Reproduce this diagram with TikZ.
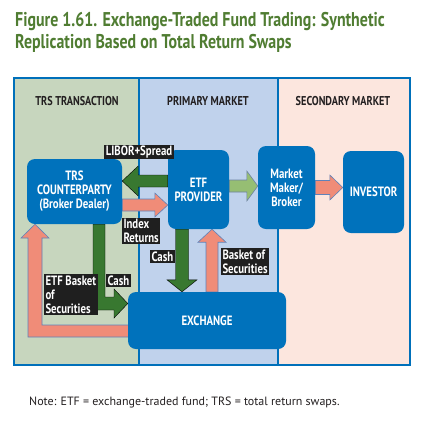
\documentclass[tikz,border=0pt]{standalone}
\usepackage{fontspec}
\setmainfont{PT Sans}
\newfontfamily\cond[FakeStretch=0.8]{PT Sans}
\usetikzlibrary{calc}
\definecolor{titlegreen}{RGB}{80,125,50}
\definecolor{frameblue}{RGB}{0,112,186}
\definecolor{nodeblue}{RGB}{0,114,188}
\definecolor{bgone}{RGB}{199,214,190}
\definecolor{bgtwo}{RGB}{192,210,236}
\definecolor{bgthree}{RGB}{252,230,222}
\definecolor{dkgreen}{RGB}{56,120,48}
\definecolor{salmon}{RGB}{240,140,120}
\definecolor{ltgreen}{RGB}{150,190,115}
\definecolor{edgeblue}{RGB}{95,130,185}
\definecolor{ink}{RGB}{35,31,32}
\pgfdeclarelayer{back}
\pgfdeclarelayer{arrows}
\pgfsetlayers{back,arrows,main}
% #1 style, #2 start, #3 end, #4 shaft half width, #5 head half width, #6 head length
\newcommand\blockarrow[6]{%
  \coordinate (bA) at (#2);
  \coordinate (bB) at (#3);
  \coordinate (bC) at ($(bB)!#6!(bA)$);
  \draw[#1] ($(bA)!#4!90:(bB)$) -- ($(bC)!#4!90:(bB)$) -- ($(bC)!#5!90:(bB)$)
    -- (bB) -- ($(bC)!#5!-90:(bB)$) -- ($(bC)!#4!-90:(bB)$) -- ($(bA)!#4!-90:(bB)$) -- cycle;
}
\begin{document}
\begin{tikzpicture}[x=1pt,y=-1pt,
  box/.style={fill=nodeblue, rounded corners=8pt, inner sep=0pt, text=white, align=center,
    font=\cond\bfseries\fontsize{13.5}{14}\selectfont},
  tag/.style={fill=black!88, text=white, inner sep=1.3pt, align=left, anchor=north west,
    font=\cond\bfseries\fontsize{13.5}{14}\selectfont},
  colhead/.style={text=ink, font=\cond\bfseries\fontsize{12.8}{14}\selectfont},
  dg/.style={fill=dkgreen},
  sa/.style={fill=salmon, draw=edgeblue, line width=0.6pt},
  lg/.style={fill=ltgreen, draw=edgeblue!60!gray, line width=0.6pt}]
\begin{pgfonlayer}{back}
\useasboundingbox[fill=white] (0,0) rectangle (430,421);
\end{pgfonlayer}

% title
\node[anchor=base west, inner sep=0pt, text=titlegreen, font=\cond\bfseries\fontsize{19.9}{22}\selectfont] (title1) at (15,26.5) {Figure 1.61. Exchange-Traded Fund Trading: Synthetic};
\node[anchor=base west, inner sep=0pt, text=titlegreen, font=\cond\bfseries\fontsize{19.9}{22}\selectfont] (title2) at (15,48.5) {Replication Based on Total Return Swaps};

% panels
\begin{pgfonlayer}{back}
\fill[bgone] (14,78) rectangle (139,365);
\fill[bgtwo] (139,78) rectangle (278,365);
\fill[bgthree] (278,78) rectangle (410,365);
\draw[frameblue, line width=1.1pt] (139,78) -- (139,365) (278,78) -- (278,365);
\draw[frameblue, line width=1.8pt] (14,78) rectangle (410,365);
\end{pgfonlayer}

\node[colhead] (h1) at (77,101) {TRS TRANSACTION};
\node[colhead] (h2) at (208,101) {PRIMARY MARKET};
\node[colhead] (h3) at (343,101) {SECONDARY MARKET};

% boxes
\node[box, minimum width=95pt, minimum height=65pt] (trs) at (74.5,191.5) {TRS\\COUNTERPARTY\\(Broker Dealer)};
\node[box, minimum width=61pt, minimum height=79pt] (etf) at (198.5,189.5) {ETF\\PROVIDER};
\node[box, minimum width=57pt, minimum height=83pt] (mm) at (286.5,187.5) {Market\\Maker/\\Broker};
\node[box, minimum width=61pt, minimum height=82pt] (inv) at (373.5,192) {INVESTOR};
\node[box, minimum width=158pt, minimum height=57pt] (exch) at (207,320.5) {EXCHANGE};

% arrows
\begin{pgfonlayer}{arrows}
\blockarrow{dg}{etf.west |- 0,181}{trs.east |- 0,181}{6pt}{15pt}{16pt}
\blockarrow{sa}{trs.east |- 0,205}{etf.west |- 0,205}{6pt}{12pt}{13pt}
\blockarrow{lg}{etf.east |- 0,186}{mm.west |- 0,186}{6pt}{15pt}{11pt}
\blockarrow{sa}{mm.east |- 0,187.5}{inv.west |- 0,187.5}{7pt}{12.5pt}{13pt}
\blockarrow{dg}{182,0 |- etf.south}{182,0 |- exch.north}{6.5pt}{15pt}{12pt}
\blockarrow{sa}{212,0 |- exch.north}{212,0 |- etf.south}{6pt}{14pt}{13pt}
% L-shaped: TRS down to EXCHANGE (cash)
\draw[dg] (93,0 |- trs.south) -- (93,310) -- (114,310) -- (114,318)
  -- (exch.west |- 0,303.5) -- (114,289) -- (114,297) -- (105,297) -- (105,0 |- trs.south) -- cycle;
% L-shaped: EXCHANGE back to TRS (ETF basket)
\draw[sa] (134,337) -- (28,337) -- (28,238) -- (21,238) -- (35,0 |- trs.south)
  -- (49,238) -- (42,238) -- (42,325) -- (134,325);
\end{pgfonlayer}

% tags
\node[tag, anchor=center] (t1) at (139,152) {LIBOR+Spread};
\node[tag] (t2) at (122,218) {Index\\Returns};
\node[tag] (t3) at (150,250) {Cash};
\node[tag] (t4) at (221,248) {Basket of\\Securities};
\node[tag] (t5) at (44,274) {ETF Basket\\of\\Securities};
\node[tag] (t6) at (106,274) {Cash};

% note
\node[anchor=base west, inner sep=0pt, text=ink, font=\fontsize{12}{13}\selectfont] (note) at (29,405.5) {Note: ETF = exchange-traded fund; TRS = total return swaps.};
\end{tikzpicture}
\end{document}
